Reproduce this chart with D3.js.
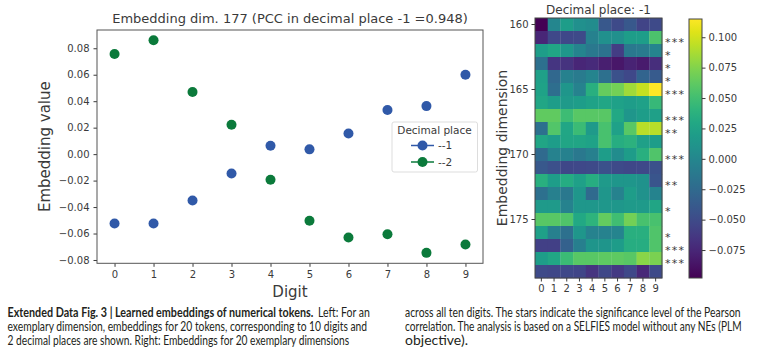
<!DOCTYPE html>
<html>
<head>
<meta charset="utf-8">
<script src="https://cdn.jsdelivr.net/npm/d3@7"></script>
<style>
  body { margin: 0; background: #fff; }
  svg { display: block; }
  text { font-family: "DejaVu Sans", sans-serif; }
</style>
</head>
<body>
<svg id="fig" width="758" height="353"></svg>
<script>
// ---- data ----
const digits = [0, 1, 2, 3, 4, 5, 6, 7, 8, 9];
const placeMinus1 = [-0.0524, -0.0524, -0.035, -0.0146, 0.0063, 0.0036, 0.0156, 0.0333, 0.0363, 0.060];
const placeMinus2 = [0.0757, 0.086, 0.047, 0.0222, -0.0193, -0.0504, -0.063, -0.0605, -0.0746, -0.0683];
const yTicks = [-0.08, -0.06, -0.04, -0.02, 0, 0.02, 0.04, 0.06, 0.08];

const dims = [160, 161, 162, 163, 164, 165, 166, 167, 168, 169,
              170, 171, 172, 173, 174, 175, 176, 177, 178, 179];
const dimTicks = [160, 165, 170, 175];
const heatValues = [
  [-0.098, 0.000, 0.020, 0.008, 0.005, -0.040, -0.050, -0.040, -0.055, -0.050],
  [-0.075, -0.052, -0.052, -0.050, -0.005, 0.008, 0.008, 0.020, 0.020, 0.055],
  [0.020, 0.028, 0.015, -0.002, -0.013, -0.018, -0.060, -0.013, -0.010, -0.002],
  [-0.020, -0.065, -0.067, -0.075, -0.073, -0.080, -0.085, -0.078, -0.083, -0.070],
  [0.022, -0.027, -0.005, -0.010, -0.002, -0.020, -0.045, -0.052, -0.030, -0.038],
  [0.025, -0.022, 0.014, -0.004, 0.036, 0.065, 0.070, 0.085, 0.096, 0.115],
  [0.028, 0.020, 0.017, 0.020, 0.025, 0.028, 0.023, 0.020, 0.023, 0.045],
  [0.063, 0.063, 0.048, 0.060, 0.060, 0.060, 0.030, 0.014, 0.020, 0.022],
  [-0.020, 0.057, 0.028, 0.047, 0.017, 0.053, 0.023, 0.060, 0.092, 0.092],
  [0.027, 0.020, 0.027, 0.027, 0.025, 0.053, 0.035, 0.038, 0.022, 0.020],
  [-0.025, -0.004, -0.005, -0.013, -0.006, 0.020, 0.005, 0.019, 0.036, 0.056],
  [-0.040, -0.046, -0.053, -0.052, -0.050, -0.045, -0.050, -0.053, -0.052, -0.045],
  [0.036, 0.020, 0.033, 0.022, 0.035, 0.017, 0.014, 0.014, 0.010, -0.042],
  [-0.020, -0.006, -0.013, 0.014, -0.025, 0.014, -0.004, 0.020, 0.010, -0.003],
  [0.017, 0.017, -0.004, 0.015, 0.015, 0.015, 0.015, 0.017, 0.017, 0.027],
  [0.060, 0.060, 0.056, 0.030, 0.040, 0.064, 0.050, 0.070, 0.053, 0.053],
  [0.022, -0.006, -0.020, 0.014, -0.004, -0.004, -0.002, 0.036, 0.036, 0.056],
  [-0.058, -0.058, -0.033, -0.007, 0.013, 0.013, 0.019, 0.035, 0.035, 0.056],
  [0.020, 0.028, 0.047, 0.060, 0.060, 0.062, 0.062, 0.060, 0.077, 0.072],
  [-0.050, -0.053, -0.052, -0.054, -0.066, -0.053, -0.063, -0.052, -0.074, -0.050]
];
const stars = ["", "***", "*", "*", "*", "***", "", "***", "**", "",
               "***", "", "**", "", "*", "", "*", "***", "***", ""];
const cbarTicks = [-0.075, -0.05, -0.025, 0, 0.025, 0.05, 0.075, 0.1];

const svg = d3.select('#fig');
const ink = '#3a3a3a';

// ---- left panel: scatter ----
const sc = { left: 97, right: 483, top: 30, bottom: 263.3 };
const x = d3.scaleLinear().domain([-0.45, 9.45]).range([sc.left, sc.right]);
const y = d3.scaleLinear().domain([-0.0825, 0.0938]).range([sc.bottom, sc.top]);

const xAxisG = svg.append('g')
    .attr('transform', `translate(0, ${sc.bottom})`)
    .call(d3.axisBottom(x).tickValues(digits).tickFormat(d3.format('d')).tickSize(3.5).tickPadding(4));
const yAxisG = svg.append('g')
    .attr('transform', `translate(${sc.left}, 0)`)
    .call(d3.axisLeft(y).tickValues(yTicks).tickFormat(d3.format('.2f')).tickSize(3.5).tickPadding(4));
[xAxisG, yAxisG].forEach(g => {
    g.select('.domain').remove();
    g.selectAll('line').attr('stroke', ink);
    g.selectAll('text').attr('fill', ink).style('font-size', '10px').style('font-family', '"DejaVu Sans", sans-serif');
});

svg.append('rect')
   .attr('x', sc.left).attr('y', sc.top)
   .attr('width', sc.right - sc.left).attr('height', sc.bottom - sc.top)
   .attr('fill', 'none').attr('stroke', '#555').attr('stroke-width', 1);

const blue = '#3059a8', green = '#0b7a3b';
const series = [
    { name: '--1', values: placeMinus1, color: blue },
    { name: '--2', values: placeMinus2, color: green }
];
series.forEach(s => {
    svg.append('g').selectAll('circle')
       .data(digits)
       .join('circle')
       .attr('cx', d => x(d))
       .attr('cy', (d, i) => y(s.values[i]))
       .attr('r', 5)
       .attr('fill', s.color);
});

svg.append('text')
   .attr('x', (sc.left + sc.right) / 2).attr('y', 23)
   .attr('text-anchor', 'middle').attr('fill', ink)
   .style('font-size', '13px')
   .text('Embedding dim. 177 (PCC in decimal place -1 =0.948)');
svg.append('text')
   .attr('x', (sc.left + sc.right) / 2).attr('y', 297)
   .attr('text-anchor', 'middle').attr('fill', ink)
   .style('font-size', '15px')
   .text('Digit');
svg.append('text')
   .attr('transform', `translate(50, ${(sc.top + sc.bottom) / 2}) rotate(-90)`)
   .attr('text-anchor', 'middle').attr('fill', ink)
   .style('font-size', '15px')
   .text('Embedding value');

// legend
const legend = svg.append('g').attr('transform', 'translate(392, 122)');
legend.append('rect')
      .attr('width', 85.5).attr('height', 50).attr('rx', 2)
      .attr('fill', 'white').attr('fill-opacity', 0.85)
      .attr('stroke', '#ddd');
legend.append('text')
      .attr('x', 42.5).attr('y', 12).attr('text-anchor', 'middle')
      .attr('fill', ink).style('font-size', '10.5px')
      .text('Decimal place');
series.forEach((s, i) => {
    const ly = 23.5 + i * 16.5;
    legend.append('line')
          .attr('x1', 19).attr('x2', 42).attr('y1', ly).attr('y2', ly)
          .attr('stroke', s.color).attr('stroke-width', 1.5);
    legend.append('circle').attr('cx', 30.5).attr('cy', ly).attr('r', 5).attr('fill', s.color);
    legend.append('text')
          .attr('x', 46).attr('y', ly + 3.8)
          .attr('fill', ink).style('font-size', '10.5px')
          .text(s.name);
});

// ---- right panel: heatmap ----
const hm = { left: 535, right: 662, top: 18, bottom: 278 };
const hx = d3.scaleBand().domain(digits).range([hm.left, hm.right]);
const hy = d3.scaleBand().domain(dims).range([hm.top, hm.bottom]);
const allVals = heatValues.flat();
const vExtent = d3.extent(allVals);
const color = d3.scaleSequential(d3.interpolateViridis).domain(vExtent);

const cells = [];
heatValues.forEach((row, r) => row.forEach((v, c) => cells.push({ dim: dims[r], digit: digits[c], v })));
svg.append('g').selectAll('rect')
   .data(cells)
   .join('rect')
   .attr('x', d => hx(d.digit))
   .attr('y', d => hy(d.dim))
   .attr('width', hx.bandwidth() + 0.3)
   .attr('height', hy.bandwidth() + 0.3)
   .attr('fill', d => color(d.v));

svg.append('rect')
   .attr('x', hm.left).attr('y', hm.top)
   .attr('width', hm.right - hm.left).attr('height', hm.bottom - hm.top)
   .attr('fill', 'none').attr('stroke', '#444').attr('stroke-width', 1);

const hxAxis = svg.append('g')
    .attr('transform', `translate(0, ${hm.bottom})`)
    .call(d3.axisBottom(hx).tickSize(3.5).tickPadding(3));
const hyAxis = svg.append('g')
    .attr('transform', `translate(${hm.left}, 0)`)
    .call(d3.axisLeft(hy).tickValues(dimTicks).tickSize(3.5).tickPadding(3));
[hxAxis, hyAxis].forEach(g => {
    g.select('.domain').remove();
    g.selectAll('line').attr('stroke', ink);
    g.selectAll('text').attr('fill', ink).style('font-size', '10px').style('font-family', '"DejaVu Sans", sans-serif');
});

svg.append('text')
   .attr('x', (hm.left + hm.right) / 2).attr('y', 14)
   .attr('text-anchor', 'middle').attr('fill', ink)
   .style('font-size', '12px')
   .text('Decimal place: -1');
svg.append('text')
   .attr('transform', `translate(507, ${(hm.top + hm.bottom) / 2}) rotate(-90)`)
   .attr('text-anchor', 'middle').attr('fill', ink)
   .style('font-size', '14px')
   .text('Embedding dimension');

// significance stars
svg.append('g').selectAll('text')
   .data(dims.map((d, i) => ({ dim: d, s: stars[i] })).filter(d => d.s))
   .join('text')
   .attr('x', 665)
   .attr('y', d => hy(d.dim) + hy.bandwidth() / 2 + 8)
   .attr('fill', ink)
   .attr('letter-spacing', 1.2)
   .style('font-size', '11px')
   .text(d => d.s);

// colorbar
const cb = { left: 689, right: 702, top: 19, bottom: 278 };
const cy = d3.scaleLinear().domain(vExtent).range([cb.bottom, cb.top]);
const defs = svg.append('defs');
const grad = defs.append('linearGradient')
    .attr('id', 'viridis').attr('x1', 0).attr('x2', 0).attr('y1', 1).attr('y2', 0);
grad.selectAll('stop')
    .data(d3.range(0, 1.0001, 0.05))
    .join('stop')
    .attr('offset', d => d)
    .attr('stop-color', d => d3.interpolateViridis(d));
svg.append('rect')
   .attr('x', cb.left).attr('y', cb.top)
   .attr('width', cb.right - cb.left).attr('height', cb.bottom - cb.top)
   .attr('fill', 'url(#viridis)').attr('stroke', '#444').attr('stroke-width', 1);
const cbAxis = svg.append('g')
    .attr('transform', `translate(${cb.right}, 0)`)
    .call(d3.axisRight(cy).tickValues(cbarTicks).tickFormat(d3.format('.3f')).tickSize(3.5).tickPadding(3));
cbAxis.select('.domain').remove();
cbAxis.selectAll('line').attr('stroke', ink);
cbAxis.selectAll('text').attr('fill', ink).style('font-size', '10px').style('font-family', '"DejaVu Sans", sans-serif');

// ---- caption ----
const capColor = '#231f20';
const captionLines = [
    { x: 7.5, y: 317, w: 306, bold: true, t: 'Extended Data Fig. 3 | Learned embeddings of numerical tokens.' },
    { x: 318, y: 317, w: 52, t: 'Left: For an' },
    { x: 7.5, y: 331, w: 360, t: 'exemplary dimension, embeddings for 20 tokens, corresponding to 10 digits and' },
    { x: 7.5, y: 345, w: 342, t: '2 decimal places are shown. Right: Embeddings for 20 exemplary dimensions' },
    { x: 405, y: 317, w: 336, t: 'across all ten digits. The stars indicate the significance level of the Pearson' },
    { x: 405, y: 331, w: 337, t: 'correlation. The analysis is based on a SELFIES model without any NEs (PLM' },
    { x: 405, y: 345, w: 63, t: 'objective).' }
];
const cap = svg.append('g').selectAll('text')
   .data(captionLines)
   .join('text')
   .attr('x', 0).attr('y', 0)
   .attr('fill', capColor)
   .style('font-family', 'Lato, "Open Sans", sans-serif')
   .style('font-size', '12.5px')
   .style('font-weight', d => d.bold ? 'bold' : 'normal')
   .text(d => d.t);
// condense each line horizontally to the width it has in the printed caption
cap.each(function(d) {
    const sx = d.w / this.getComputedTextLength();
    d3.select(this).attr('transform', `translate(${d.x}, ${d.y}) scale(${sx}, 1)`);
});
</script>
</body>
</html>
